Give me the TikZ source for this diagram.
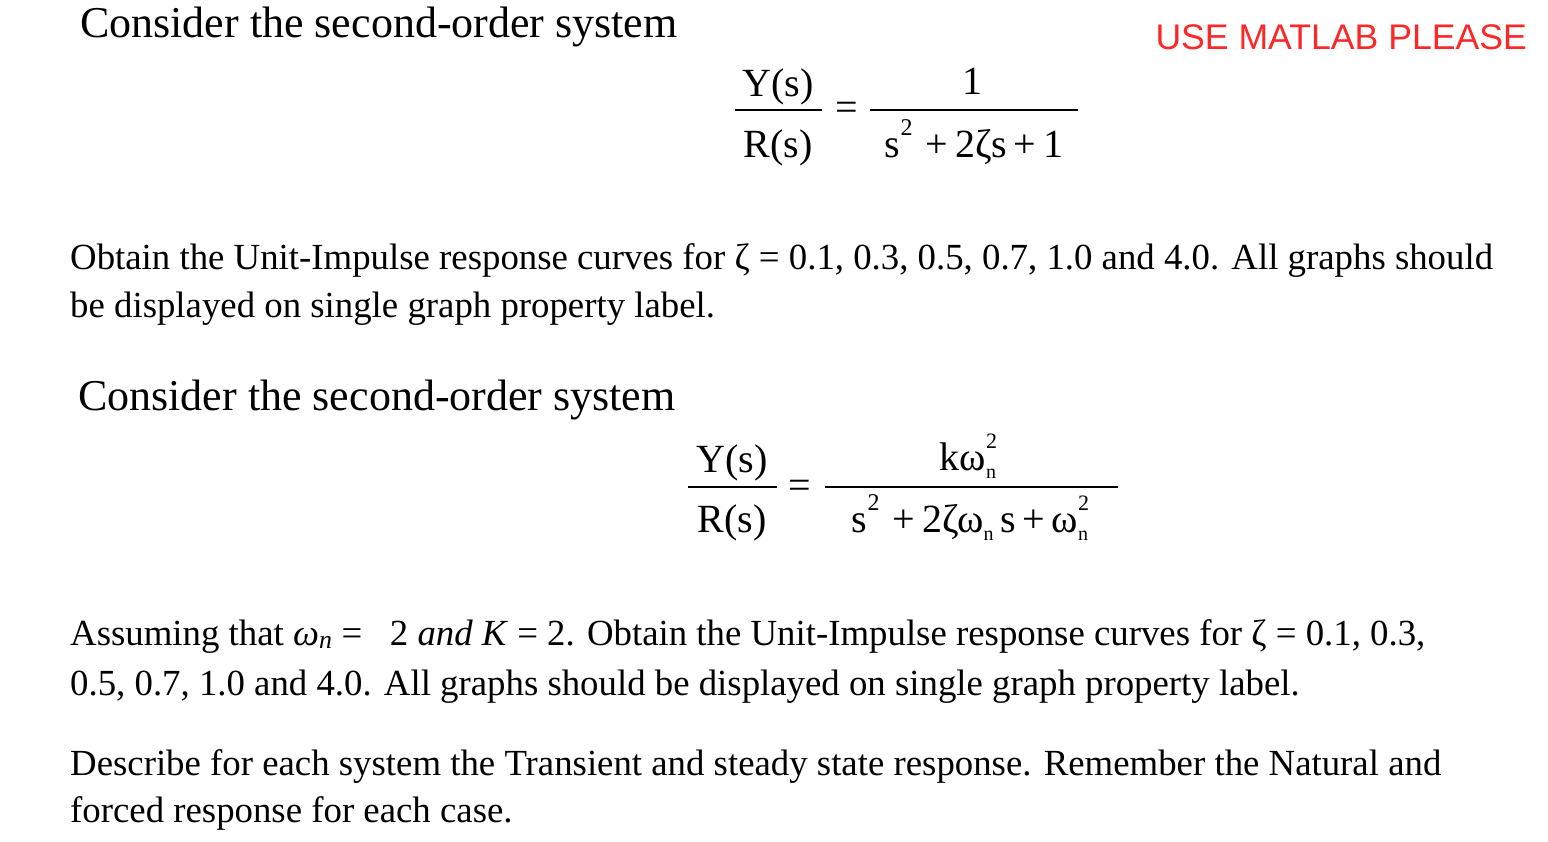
\documentclass[tikz,border=0pt]{standalone}
\usepackage{fontspec}
\setmainfont{Liberation Serif}
\newfontfamily\redsans{Liberation Sans}
\newcommand{\myss}[2]{\rlap{\raisebox{0.55em}{\fontsize{22}{22}\selectfont #1}}\raisebox{-0.2em}{\fontsize{20}{20}\selectfont #2}}
\newcommand{\mysup}[1]{\raisebox{0.55em}{\fontsize{24}{24}\selectfont #1}}
\newcommand{\mysub}[1]{\raisebox{-0.2em}{\fontsize{20}{20}\selectfont #1}}
\begin{document}
\begin{tikzpicture}[x=1pt,y=-1pt,
  txt/.style={anchor=base west,inner sep=0pt,font=\fontsize{36.8}{40}\selectfont},
  hd/.style={anchor=base west,inner sep=0pt,font=\fontsize{44}{48}\selectfont},
  eq/.style={anchor=base,inner sep=0pt,font=\fontsize{40}{44}\selectfont}]
\useasboundingbox (0,0) rectangle (1548,842);
\node[hd] (h1) at (80,38) {Consider the second-order system};
\node[anchor=base east,inner sep=0pt,font=\redsans\fontsize{35.6}{40}\selectfont,text={rgb,255:red,250;green,40;blue,40}] (red) at (1527,50) {USE MATLAB PLEASE};
% fraction 1
\node[eq] (y1) at (778,97) {Y(s)};
\node[eq] (r1) at (778,158) {R(s)};
\draw[line width=1.2pt] (735,110) -- (822,110);
\node[eq] (e1) at (847,121) {=};
\node[eq] (n1) at (972,95) {1};
\draw[line width=1.2pt] (870,110) -- (1078,110);
\node[eq] (d1) at (974,158) {s\mysup{2}\,\,+\,2ζs\,+\,1};
\node[txt] (p1a) at (70,270) {Obtain the Unit-Impulse response curves for ζ = 0.1, 0.3, 0.5, 0.7, 1.0 and 4.0. All graphs should};
\node[txt] (p1b) at (70,318) {be displayed on single graph property label.};
\node[hd] (h2) at (78,410) {Consider the second-order system};
% fraction 2
\node[eq] (y2) at (732,472) {Y(s)};
\node[eq] (r2) at (732,532) {R(s)};
\draw[line width=1.2pt] (688,487) -- (777,487);
\node[eq] (e2) at (800,498) {=};
\node[eq] (n2) at (968,470) {kω\myss{2}{n}};
\draw[line width=1.2pt] (825,487) -- (1118,487);
\node[eq] (d2) at (970,532) {s\mysup{2}\,\,+\,2ζω\mysub{n}\,s\,+\,ω\myss{2}{n}};
\node[txt] (p2a) at (70,645) {Assuming that \textit{ω}\textsubscript{\textit{n}} =\ \ \ 2 \textit{and K} = 2. Obtain the Unit-Impulse response curves for ζ = 0.1, 0.3,};
\node[txt] (p2b) at (70,695) {0.5, 0.7, 1.0 and 4.0. All graphs should be displayed on single graph property label.};
\node[txt] (p3a) at (70,775) {Describe for each system the Transient and steady state response. Remember the Natural and};
\node[txt] (p3b) at (70,822) {forced response for each case.};
\end{tikzpicture}
\end{document}
